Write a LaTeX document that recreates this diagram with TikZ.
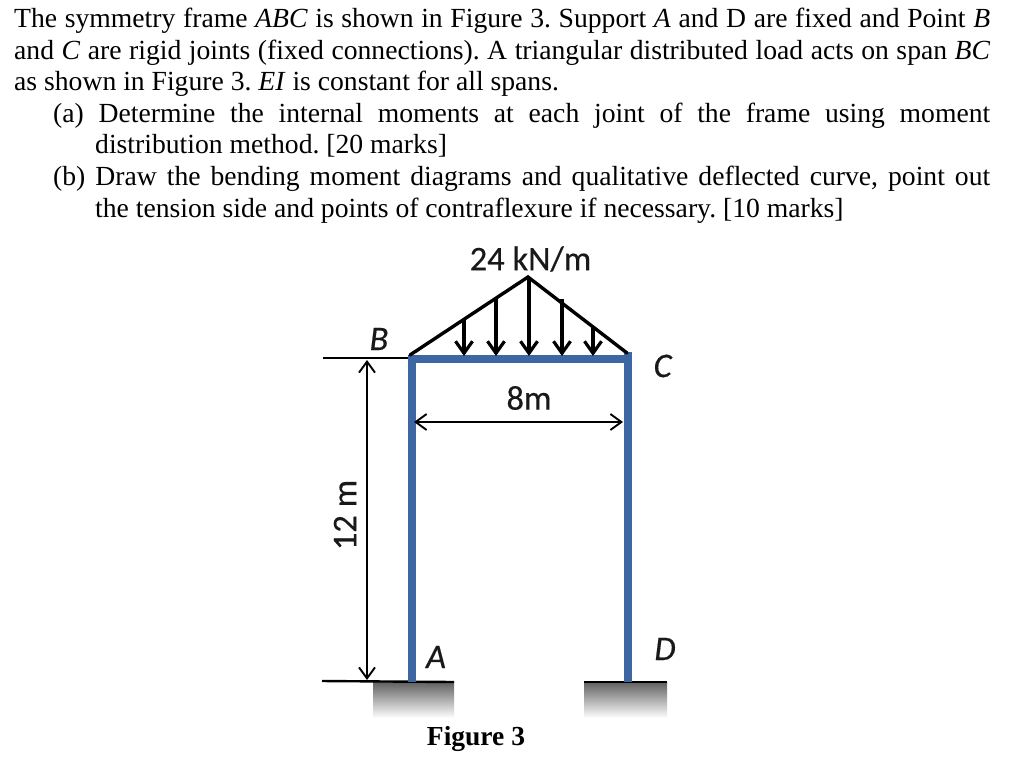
\documentclass[tikz,border=0pt]{standalone}
\usepackage{fontspec}
\setmainfont{Liberation Serif}
\newfontfamily\labelfont[FakeBold=0.4]{Carlito}
\usetikzlibrary{arrows.meta}
\definecolor{framecol}{RGB}{61,103,163}
\tikzset{
  textline/.style={anchor=base west,inner sep=0pt,font=\fontsize{27.65}{30}\selectfont\frenchspacing},
  lab/.style={inner sep=0pt,font=\labelfont\fontsize{34.5}{38}\selectfont,text=black!90},
  member/.style={draw=framecol,line width=8pt},
  loadline/.style={draw=black,line width=3.4pt,line cap=round},
  loadarrow/.style={draw=black,-{Straight Barb[length=12pt,width=17pt,line width=3.2pt]}},
  dimline/.style={draw=black,line width=2.2pt,{Straight Barb[length=11pt,width=16pt,line width=1.9pt]}-{Straight Barb[length=11pt,width=16pt,line width=1.9pt]}},
  extline/.style={draw=black,line width=2.4pt},
  ground/.style={top color=black!62,bottom color=white,draw=none}
}
\begin{document}
\begin{tikzpicture}[x=1pt,y=-1pt]
\useasboundingbox (0,0) rectangle (1024,763);
\fill[white] (0,0) rectangle (1024,763);
% text
\node[textline] (t1) at (14,27) {\makebox[976pt][s]{The symmetry frame \textit{ABC} is shown in Figure 3. Support \textit{A} and D are fixed and Point \textit{B}}};
\node[textline] (t2) at (14,59) {\makebox[976pt][s]{and \textit{C} are rigid joints (fixed connections). A triangular distributed load acts on span \textit{BC}}};
\node[textline] (t3) at (14,90) {as shown in Figure 3. \textit{EI} is constant for all spans.};
\node[textline] (t4) at (53,122) {\makebox[937pt][s]{(a) Determine the internal moments at each joint of the frame using moment}};
\node[textline] (t5) at (95,153) {distribution method. [20 marks]};
\node[textline] (t6) at (53,185) {\makebox[937pt][s]{(b) Draw the bending moment diagrams and qualitative deflected curve, point out}};
\node[textline] (t7) at (95,217) {the tension side and points of contraflexure if necessary. [10 marks]};
% ground
\shade[ground] (373,682) rectangle (454,718);
\shade[ground] (584,682) rectangle (667,718);
% joints
\coordinate (A) at (412,682);
\coordinate (B) at (412,359);
\coordinate (C) at (627.5,359);
\coordinate (Ctop) at (627.5,352);
\coordinate (D) at (627.5,682);
\coordinate (Bend) at (408,358);
\coordinate (Cend) at (631.5,359);
\coordinate (Bleft) at (408,359);
% extension lines
\coordinate (e1) at (323,358);
\coordinate (e2) at (322,681);
\coordinate (g1) at (454,682);
\coordinate (g2) at (584,682);
\coordinate (g3) at (667,682);
\draw[extline] (e1) -- (Bend);
\draw[extline] (e2) -- (g1);
\draw[extline] (g2) -- (g3);
% frame
\draw[member] (A) -- (B);
\draw[member] (D) -- (Ctop);
\draw[draw=framecol,line width=7.5pt] (Bleft) -- (Cend);
% load
\coordinate (p) at (528,277);
\coordinate (l) at (410,355);
\coordinate (r) at (627,353);
\draw[loadline] (l) -- (p) -- (r);
\foreach \n/\x/\yy/\w in {a/464/319/3.2,b/496/298/3.2,c/529/277/3.2,d/562/299/3.6,e/593/327/3.4}{
  \coordinate (top\n) at (\x,\yy);
  \coordinate (bot\n) at (\x,356);
  \draw[loadarrow,line width=\w pt] (top\n) -- (bot\n);
}
% dimensions
\coordinate (d1) at (367,360);
\coordinate (d2) at (367,680);
\coordinate (h1) at (414,422);
\coordinate (h2) at (623,422);
\draw[dimline] (d1) -- (d2);
\draw[dimline] (h1) -- (h2);
% labels
\node[lab] (load) at (530.5,259) {24 kN/m};
\node[lab] (lb) at (379,339) {\textit{B}};
\node[lab] (lc) at (663,366) {\textit{C}};
\node[lab] (span) at (529,398) {8m};
\node[lab,rotate=90] (height) at (345,515) {12 m};
\node[lab] (la) at (436,657) {\textit{A}};
\node[lab] (ld) at (665,649) {\textit{D}};
\node[inner sep=0pt,font=\fontsize{27.5}{30}\selectfont\bfseries] (fig) at (476,738.5) {Figure 3};
\end{tikzpicture}
\end{document}
